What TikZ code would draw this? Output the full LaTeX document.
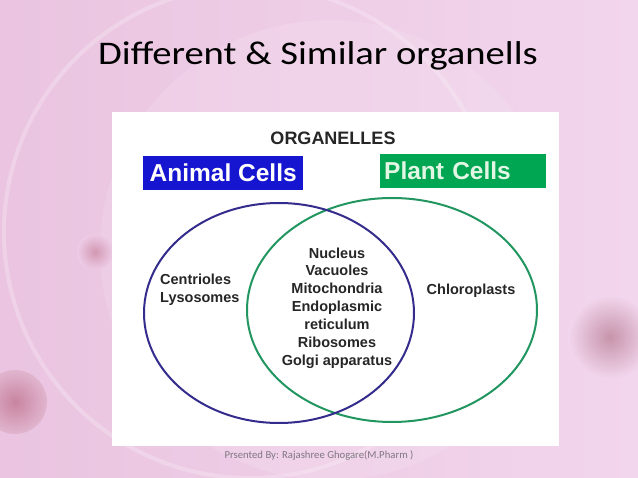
\documentclass[tikz,border=0pt]{standalone}
\usepackage{fontspec}
\setmainfont{Carlito}
\newfontfamily\arialfont{Liberation Sans}
\usetikzlibrary{shapes.geometric}

\definecolor{slidepink}{RGB}{242,214,237}
\definecolor{slidedeep}{RGB}{234,196,224}
\definecolor{ballpink}{RGB}{200,132,160}
\definecolor{ballmauve}{RGB}{198,148,170}
\definecolor{animalblue}{RGB}{22,22,208}
\definecolor{plantgreen}{RGB}{0,166,82}
\definecolor{planttext}{RGB}{226,246,228}
\definecolor{animalring}{RGB}{52,44,140}
\definecolor{plantring}{RGB}{34,150,96}
\definecolor{textgray}{RGB}{38,38,38}
\definecolor{footgray}{RGB}{128,118,130}

\begin{document}
\begin{tikzpicture}[x=1pt,y=-1pt,
  organelle/.style={font=\arialfont\bfseries\fontsize{14.5}{17.9}\selectfont,
    text=textgray, align=center, inner sep=0pt},
  cellbox/.style={font=\arialfont\bfseries\fontsize{24.5}{28}\selectfont,
    anchor=north west, minimum height=34pt},
  ring/.style={draw, ellipse, line width=2pt, inner sep=0pt}]

\useasboundingbox (0,0) rectangle (638,478);

% Slide background
\shade[left color=slidedeep, right color=slidepink] (0,0) rectangle (638,478);
\fill[white, opacity=0.12] (330,250) circle (230);
\draw[white!70!slidedeep, line width=4pt, opacity=0.35] (250,232) circle (246);
\shade[inner color=ballpink!75!slidepink, outer color=slidedeep!60!slidepink] (95,252) circle (18);
\shade[inner color=ballpink, outer color=slidepink!60!ballpink] (15,402) circle (32);
\shade[inner color=ballmauve, outer color=slidepink] (610,337) circle (42);

% Title
\node[font=\fontsize{33}{40}\selectfont] (title) at (318,56) {\scalebox{1.17}[1]{Different \& Similar organells}};

% White panel
\fill[white] (112,112) rectangle (559,446);

% Heading and the two labels
\node[font=\arialfont\bfseries\fontsize{18}{22}\selectfont, text=textgray] (heading) at (333,138) {ORGANELLES};
\node[cellbox, fill=animalblue, text=white, minimum width=160pt, inner xsep=0pt] (animal) at (143,156) {Animal Cells};
\node[cellbox, fill=plantgreen, text=planttext, inner xsep=4pt, text width=158pt, align=left] (plant) at (380,154) {Plant Cells};

% Venn rings
\node[ring, draw=plantring, minimum width=290pt, minimum height=224pt] (plantring) at (392,310) {};
\node[ring, draw=animalring, minimum width=270pt, minimum height=220pt] (animalring) at (279,313) {};

% Organelles
\node[organelle, align=left, anchor=west] (animalonly) at (160,290) {Centrioles\\Lysosomes};
\node[organelle] (shared) at (337,308) {Nucleus\\Vacuoles\\Mitochondria\\Endoplasmic\\reticulum\\Ribosomes\\Golgi apparatus};
\node[organelle] (plantonly) at (471,291) {Chloroplasts};

% Footer
\node[font=\fontsize{10.7}{12}\selectfont, text=footgray] (credit) at (319,456) {Prsented By: Rajashree Ghogare(M.Pharm )};

\end{tikzpicture}
\end{document}
